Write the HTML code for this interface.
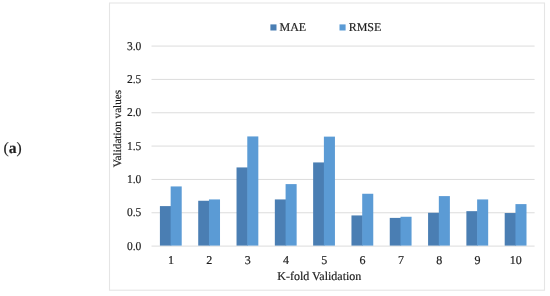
<!DOCTYPE html>
<html><head><meta charset="utf-8"><title>K-fold Validation</title>
<style>
html,body{margin:0;padding:0;background:#fff;}
body{width:550px;height:296px;overflow:hidden;position:relative;font-family:"Liberation Serif",serif;}
svg{position:absolute;left:0;top:0;display:block}
text{font-family:"Liberation Serif",serif;fill:#1c1c1c;text-rendering:geometricPrecision;stroke:#1c1c1c;stroke-width:0.18px}
</style></head><body>
<svg width="550" height="296" viewBox="0 0 550 296">
<rect x="0" y="0" width="550" height="296" fill="#fff"/>
<rect x="109.5" y="3" width="435" height="287.2" fill="#fff" stroke="#e5e5e5" stroke-width="1.1"/>

<line x1="151.50" x2="534.60" y1="246.10" y2="246.10" stroke="#dcdcdc" stroke-width="1"/>
<text x="141.3" y="249.60" font-size="12" text-anchor="end" textLength="14.4" lengthAdjust="spacingAndGlyphs">0.0</text>
<line x1="151.50" x2="534.60" y1="212.76" y2="212.76" stroke="#dcdcdc" stroke-width="1"/>
<text x="141.3" y="216.26" font-size="12" text-anchor="end" textLength="14.4" lengthAdjust="spacingAndGlyphs">0.5</text>
<line x1="151.50" x2="534.60" y1="179.43" y2="179.43" stroke="#dcdcdc" stroke-width="1"/>
<text x="141.3" y="182.93" font-size="12" text-anchor="end" textLength="14.4" lengthAdjust="spacingAndGlyphs">1.0</text>
<line x1="151.50" x2="534.60" y1="146.09" y2="146.09" stroke="#dcdcdc" stroke-width="1"/>
<text x="141.3" y="149.59" font-size="12" text-anchor="end" textLength="14.4" lengthAdjust="spacingAndGlyphs">1.5</text>
<line x1="151.50" x2="534.60" y1="112.76" y2="112.76" stroke="#dcdcdc" stroke-width="1"/>
<text x="141.3" y="116.26" font-size="12" text-anchor="end" textLength="14.4" lengthAdjust="spacingAndGlyphs">2.0</text>
<line x1="151.50" x2="534.60" y1="79.42" y2="79.42" stroke="#dcdcdc" stroke-width="1"/>
<text x="141.3" y="82.92" font-size="12" text-anchor="end" textLength="14.4" lengthAdjust="spacingAndGlyphs">2.5</text>
<line x1="151.50" x2="534.60" y1="46.09" y2="46.09" stroke="#dcdcdc" stroke-width="1"/>
<text x="141.3" y="49.59" font-size="12" text-anchor="end" textLength="14.4" lengthAdjust="spacingAndGlyphs">3.0</text>
<rect x="159.91" y="206.10" width="11.35" height="39.50" fill="#4a7eb3"/>
<rect x="170.66" y="186.43" width="11.05" height="59.17" fill="#5b9bd5"/>
<text x="171.06" y="263.7" font-size="12" text-anchor="middle">1</text>
<rect x="198.22" y="200.76" width="11.35" height="44.84" fill="#4a7eb3"/>
<rect x="208.97" y="199.43" width="11.05" height="46.17" fill="#5b9bd5"/>
<text x="209.37" y="263.7" font-size="12" text-anchor="middle">2</text>
<rect x="236.53" y="167.43" width="11.35" height="78.17" fill="#4a7eb3"/>
<rect x="247.28" y="136.43" width="11.05" height="109.17" fill="#5b9bd5"/>
<text x="247.68" y="263.7" font-size="12" text-anchor="middle">3</text>
<rect x="274.84" y="199.43" width="11.35" height="46.17" fill="#4a7eb3"/>
<rect x="285.59" y="184.10" width="11.05" height="61.50" fill="#5b9bd5"/>
<text x="285.99" y="263.7" font-size="12" text-anchor="middle">4</text>
<rect x="313.14" y="162.43" width="11.35" height="83.17" fill="#4a7eb3"/>
<rect x="323.89" y="136.63" width="11.05" height="108.97" fill="#5b9bd5"/>
<text x="324.29" y="263.7" font-size="12" text-anchor="middle">5</text>
<rect x="351.46" y="215.43" width="11.35" height="30.17" fill="#4a7eb3"/>
<rect x="362.21" y="193.76" width="11.05" height="51.84" fill="#5b9bd5"/>
<text x="362.61" y="263.7" font-size="12" text-anchor="middle">6</text>
<rect x="389.76" y="217.90" width="11.35" height="27.70" fill="#4a7eb3"/>
<rect x="400.51" y="216.77" width="11.05" height="28.83" fill="#5b9bd5"/>
<text x="400.91" y="263.7" font-size="12" text-anchor="middle">7</text>
<rect x="428.08" y="212.76" width="11.35" height="32.84" fill="#4a7eb3"/>
<rect x="438.83" y="196.10" width="11.05" height="49.50" fill="#5b9bd5"/>
<text x="439.23" y="263.7" font-size="12" text-anchor="middle">8</text>
<rect x="466.38" y="211.16" width="11.35" height="34.44" fill="#4a7eb3"/>
<rect x="477.13" y="199.43" width="11.05" height="46.17" fill="#5b9bd5"/>
<text x="477.53" y="263.7" font-size="12" text-anchor="middle">9</text>
<rect x="504.70" y="213.03" width="11.35" height="32.57" fill="#4a7eb3"/>
<rect x="515.45" y="204.10" width="11.05" height="41.50" fill="#5b9bd5"/>
<text x="515.85" y="263.7" font-size="12" text-anchor="middle">10</text>
<text x="319.3" y="280.1" font-size="12" text-anchor="middle">K-fold Validation</text>
<text transform="translate(121.4,128.55) rotate(-90)" font-size="11.2" text-anchor="middle">Validation values</text>
<rect x="270.4" y="24.4" width="6.1" height="6.1" fill="#4a7eb3"/>
<text x="279.5" y="31.3" font-size="12">MAE</text>
<rect x="339.5" y="24.4" width="6.1" height="6.1" fill="#5b9bd5"/>
<text x="348.7" y="31.3" font-size="12">RMSE</text>
<text x="3.5" y="153" font-size="15.6" fill="#111">(<tspan font-weight="bold">a</tspan>)</text>
</svg>
</body></html>
